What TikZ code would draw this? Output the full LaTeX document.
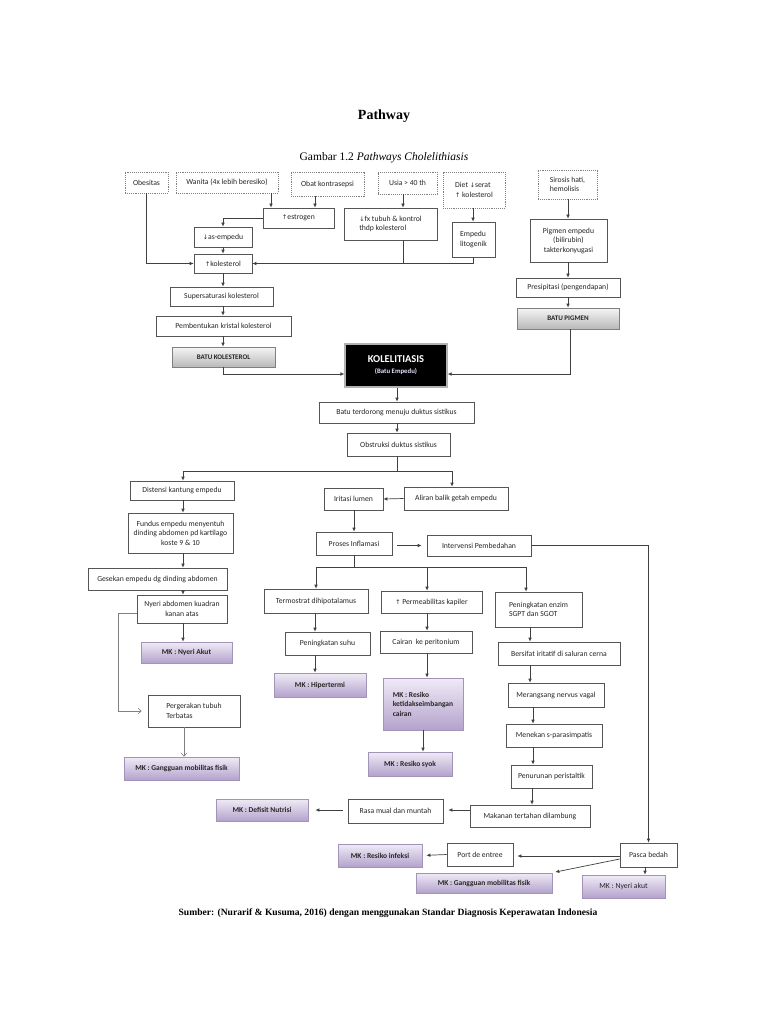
\documentclass[tikz,border=0pt]{standalone}
\usepackage{fontspec}
\setmainfont{Liberation Serif}
\newfontfamily\boxfont{Carlito}
\newfontfamily\symfont{DejaVu Sans}
\newcommand{\myup}{{\symfont\fontsize{6.3}{8}\selectfont ↑}}
\newcommand{\mydn}{{\symfont\fontsize{6.3}{8}\selectfont ↓}}
\usetikzlibrary{arrows.meta,shadows}
\definecolor{boxgray}{HTML}{555555}
\definecolor{linegray}{HTML}{404040}
\definecolor{mktop}{HTML}{F0EBF6}
\definecolor{mkbot}{HTML}{B3A2CC}
\definecolor{mkborder}{HTML}{A294B8}
\tikzset{
  base/.style={draw=boxgray, line width=0.7pt, font=\boxfont\fontsize{7.7}{9.5}\selectfont, inner sep=2pt, align=center, text=black!85},
  sz/.style 2 args={minimum width=#1pt, minimum height=#2pt},
  box/.style={base, fill=white, drop shadow={opacity=0.22, shadow xshift=1pt, shadow yshift=-1pt}},
  dbox/.style={base, fill=white, draw=gray, dash pattern=on 1pt off 0.9pt},
  mk/.style={base, draw=mkborder, top color=mktop, bottom color=mkbot, font=\boxfont\bfseries\fontsize{7.5}{9.5}\selectfont, drop shadow={opacity=0.3, shadow xshift=1.3pt, shadow yshift=-1.3pt}},
  batu/.style={base, draw=gray, top color=gray!8, bottom color=gray!55, font=\boxfont\bfseries\fontsize{7}{8}\selectfont, drop shadow={opacity=0.3, shadow xshift=1.3pt, shadow yshift=-1.3pt}},
  arr/.style={draw=linegray, line width=0.7pt, -{Latex[length=4pt,width=3.6pt]}},
  ln/.style={draw=linegray, line width=0.7pt},
  oarr/.style={draw=gray, line width=0.6pt, -{Straight Barb[length=3pt,width=5.5pt]}},
}
\begin{document}
\begin{tikzpicture}[x=1pt,y=-1pt]
\useasboundingbox[fill=white] (0,0) rectangle (768,1024);

% titles
\node (title) at (384,116) {\fontsize{14}{16}\selectfont\bfseries Pathway};
\node (gambar) at (384,158) {\fontsize{11.5}{13}\selectfont Gambar 1.2 \textit{Pathways Cholelithiasis}};
\node (sumber) at (388,913) {\fontsize{9.6}{11}\selectfont\bfseries Sumber: (Nurarif \& Kusuma, 2016) dengan menggunakan Standar Diagnosis Keperawatan Indonesia};

% top row
\node[dbox, sz={43}{21}] (obes) at (146.5,182.5) {Obesitas};
\node[dbox, sz={102}{21}] (wanita) at (227,182.5) {Wanita (4x lebih beresiko)};
\node[dbox, sz={73}{24}] (obat) at (327.5,184) {Obat kontrasepsi};
\node[dbox, sz={59}{22}] (usia) at (407.5,183) {Usia > 40 th};
\node[dbox, sz={62}{36}, align=left] (diet) at (474,190) {Diet \mydn serat\\\myup\ kolesterol};
\node[dbox, sz={59}{29}, align=left] (sirosis) at (567.5,184.5) {Sirosis hati,\\hemolisis};

\node[box, sz={71}{20}] (estro) at (298.5,218) {\myup estrogen};
\node[box, sz={93}{32}, align=left] (fx) at (390.5,224) {\mydn fx tubuh \& kontrol\\thdp kolesterol};
\node[box, sz={43}{35}, align=left] (lito) at (473.5,239.5) {Empedu\\litogenik};
\node[box, sz={77}{43}] (pigmen) at (568.5,240.5) {Pigmen empedu\\(bilirubin)\\takterkonyugasi};
\node[box, sz={58}{20}] (asemp) at (223,237) {\mydn as-empedu};
\node[box, sz={58}{19}] (kol) at (223,263.5) {\myup kolesterol};
\node[box, sz={103}{19}] (super) at (221.5,296.5) {Supersaturasi kolesterol};
\node[box, sz={135}{20}] (kristal) at (223.5,326) {Pembentukan kristal kolesterol};
\node[batu, sz={103}{20}] (batukol) at (223.5,357) {BATU KOLESTEROL};
\node[box, sz={104}{19}] (presip) at (568,287.5) {Presipitasi (pengendapan)};
\node[batu, sz={102}{21}] (batupig) at (568,318.5) {BATU PIGMEN};

\node[draw=gray!60, line width=1.2pt, fill=black, sz={102}{43}, inner sep=2pt, align=center,
      drop shadow={opacity=0.25, shadow xshift=1.3pt, shadow yshift=-1.3pt}] (kole) at (396,365.5)
      {\boxfont\bfseries\fontsize{10.5}{12}\selectfont\color{white}KOLELITIASIS\\[-1pt]
       \boxfont\bfseries\fontsize{6.8}{8}\selectfont\color{blue!10}(Batu Empedu)};

\node[box, sz={155}{21}] (terdorong) at (396.5,412.5) {Batu terdorong menuju duktus sistikus};
\node[box, sz={103}{23}] (obstr) at (398.5,444.5) {Obstruksi duktus sistikus};

% left branch
\node[box, sz={104}{19}] (distensi) at (182,490.5) {Distensi kantung empedu};
\node[box, sz={105}{40}] (fundus) at (180.5,533) {Fundus empedu menyentuh\\dinding abdomen pd kartilago\\koste 9 \& 10};
\node[box, sz={139}{22}] (gesekan) at (157.5,579) {Gesekan empedu dg dinding abdomen};
\node[box, sz={90}{28}] (nyeriabd) at (182,609) {Nyeri abdomen kuadran\\kanan atas};
\node[mk, sz={91}{21}] (mknyeri) at (186.5,652.5) {MK : Nyeri Akut};
\node[box, sz={92}{32}, align=left] (perger) at (194,711) {Pergerakan tubuh\\Terbatas};
\node[mk, sz={115}{23}] (mkmob1) at (181.5,768.5) {MK : Gangguan mobilitas fisik};

% middle
\node[box, sz={59}{22}] (iritasi) at (353.5,499) {Iritasi lumen};
\node[box, sz={104}{23}] (aliran) at (456,498.5) {Aliran balik getah empedu};
\node[box, sz={76}{23}] (proses) at (354,543.5) {Proses Inflamasi};
\node[box, sz={104}{21}] (interv) at (479,545.5) {Intervensi Pembedahan};
\node[box, sz={104}{24}] (termo) at (316,601) {Termostrat dihipotalamus};
\node[box, sz={101}{22}] (perme) at (431.5,602) {\myup\ Permeabilitas kapiler};
\node[box, sz={87}{35}, align=left] (sgpt) at (538.5,609.5) {Peningkatan enzim\\SGPT dan SGOT};
\node[box, sz={85}{23}] (suhu) at (327.5,643.5) {Peningkatan suhu};
\node[box, sz={92}{22}] (cairan) at (426,642) {Cairan\ \ ke peritonium};
\node[mk, sz={92}{24}] (mkhiper) at (320,685) {MK : Hipertermi};
\node[mk, sz={80}{52}, align=left] (mkcairan) at (423,704) {MK : Resiko\\ketidakseimbangan\\cairan};
\node[mk, sz={84}{24}] (mksyok) at (410,764) {MK : Resiko syok};

% right column
\node[box, sz={122}{23}] (bersifat) at (559,653.5) {Bersifat iritatif di saluran cerna};
\node[box, sz={96}{24}] (merang) at (556,695) {Merangsang nervus vagal};
\node[box, sz={96}{23}] (menekan) at (554,735.5) {Menekan s-parasimpatis};
\node[box, sz={81}{23}] (penurunan) at (551.5,776.5) {Penurunan peristaltik};
\node[box, sz={120}{22}] (makanan) at (530,816) {Makanan tertahan dilambung};
\node[box, sz={95}{24}] (rasa) at (395.5,811) {Rasa mual dan muntah};
\node[mk, sz={92}{22}] (mkdefisit) at (262,810) {MK : Defisit Nutrisi};

% bottom
\node[box, sz={57}{24}] (pasca) at (648.5,855) {Pasca bedah};
\node[box, sz={66}{23}] (port) at (480,854.5) {Port de entree};
\node[mk, sz={84}{23}] (mkinfeksi) at (380,855.5) {MK : Resiko infeksi};
\node[mk, sz={136}{20}] (mkmob2) at (484,883) {MK : Gangguan mobilitas fisik};
\node[mk, sz={83}{23}, font=\boxfont\fontsize{7.7}{9.5}\selectfont] (mknyeri2) at (623.5,886.5) {MK : Nyeri akut};

% ---------- connectors ----------
\draw[arr] (obes.south) |- (kol.west);
\draw[arr] (wanita.south -| 271,0) -- (estro.north -| 271,0);
\draw[arr] (obat.south -| 315,0) -- (estro.north -| 315,0);
\draw[arr] (estro.west) -| (asemp.north);
\draw[arr] (asemp.south) -- (kol.north);
\draw[arr] (usia.south -| 403,0) -- (fx.north -| 403,0);
\draw[arr] (diet.south -| 473,0) -- (lito.north -| 473,0);
\draw[arr] (lito.south -| 473,0) |- (kol.east);
\draw[ln] (fx.south -| 403,0) -- (kol.east -| 403,0);
\draw[arr] (kol.south) -- (super.north -| kol.south);
\draw[arr] (super.south -| kol.south) -- (kristal.north -| kol.south);
\draw[arr] (kristal.south -| kol.south) -- (batukol.north -| kol.south);
\draw[arr] (batukol.south) |- (kole.west |- 0,374);
\draw[arr] (sirosis.south -| 568,0) -- (pigmen.north -| 568,0);
\draw[arr] (pigmen.south -| 568,0) -- (presip.north -| 568,0);
\draw[arr] (presip.south -| 568,0) -- (batupig.north -| 568,0);
\draw[arr] (batupig.south -| 570,0) |- (kole.east |- 0,374);
\draw[arr] (kole.south -| 397,0) -- (terdorong.north -| 397,0);
\draw[arr] (terdorong.south -| 397,0) -- (obstr.north -| 397,0);

\coordinate (j2) at (397,471);
\draw[ln] (obstr.south -| j2) -- (j2);
\draw[arr] (j2) -| (distensi.north -| 183,0);
\draw[arr] (j2) -| (aliran.north -| 452,0);

\draw[arr] (distensi.south -| 183,0) -- (fundus.north -| 183,0);
\draw[arr] (fundus.south -| 183,0) -- (gesekan.north -| 183,0);
\draw[arr] (gesekan.south -| 183,0) -- (nyeriabd.north -| 183,0);
\draw[arr] (nyeriabd.south -| 183,0) -- (mknyeri.north -| 183,0);
\coordinate (nl) at (118,613);
\draw[oarr, shorten >=6pt] (nyeriabd.west |- nl) -- (nl) |- (perger.west);
\draw[oarr] (perger.south -| 184,0) -- (mkmob1.north -| 184,0);

\draw[arr] (aliran.west) -- (iritasi.east);
\draw[arr] (iritasi.south -| proses.north) -- (proses.north);
\draw[arr, shorten <=5pt, shorten >=5pt] (proses.east |- interv.west) -- (interv.west);
\draw[arr] (interv.east) -| (pasca.north);

\coordinate (j3) at (354,567);
\draw[ln] (proses.south) -- (j3);
\draw[ln] (316,567) -- (526,567);
\draw[arr] (316,567) -- (termo.north -| 316,0);
\draw[arr] (427,567) -- (perme.north -| 427,0);
\draw[arr] (526,567) -- (sgpt.north -| 526,0);

\draw[arr] (termo.south -| 315,0) -- (suhu.north -| 315,0);
\draw[arr] (suhu.south -| 315,0) -- (mkhiper.north -| 315,0);
\draw[arr] (perme.south -| 427,0) -- (cairan.north -| 427,0);
\draw[arr] (cairan.south -| 427,0) -- (mkcairan.north -| 427,0);
\draw[arr] (mkcairan.south -| 423,0) -- (mksyok.north -| 423,0);

\draw[arr] (sgpt.south -| 530,0) -- (bersifat.north -| 530,0);
\draw[arr] (bersifat.south -| 530,0) -- (merang.north -| 530,0);
\draw[arr] (merang.south -| 533,0) -- (menekan.north -| 533,0);
\draw[arr] (menekan.south -| 533,0) -- (penurunan.north -| 533,0);
\draw[arr] (penurunan.south -| 532,0) -- (makanan.north -| 532,0);
\draw[arr, shorten >=5pt] (makanan.west |- 0,810) -- (rasa.east |- 0,810);
\draw[arr, shorten <=5pt, shorten >=7pt] (rasa.west |- 0,810) -- (mkdefisit.east |- 0,810);

\draw[arr, shorten >=4pt] (pasca.west |- 0,856) -- (port.east |- 0,856);
\draw[arr, shorten >=3pt] (pasca.west |- 0,859) -- (mkmob2.north east);
\draw[arr] (pasca.south -| 645,0) -- (mknyeri2.north -| 645,0);
\draw[arr, shorten >=4pt] (port.west) -- (mkinfeksi.east);
\end{tikzpicture}
\end{document}
